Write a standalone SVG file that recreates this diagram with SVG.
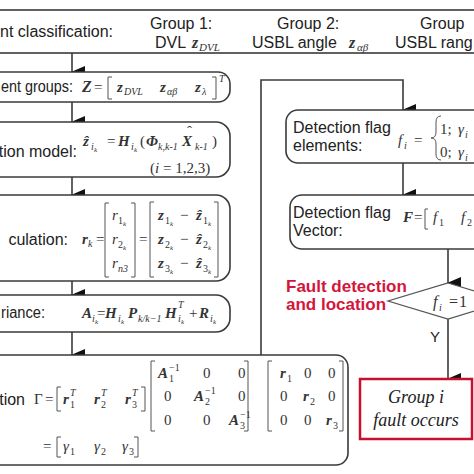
<svg xmlns="http://www.w3.org/2000/svg" width="474" height="474" viewBox="0 0 474 474">
<defs>
<style>
.ln{fill:none;stroke:#3a3a3a;stroke-width:1.6}
.bx{fill:#fff;stroke:#3a3a3a;stroke-width:1.6}
.br{fill:none;stroke:#555;stroke-width:1}
.t{font-family:"Liberation Sans",Arial,sans-serif;font-size:16px;fill:#222}
.m{font-family:"Liberation Serif","Times New Roman",serif;font-size:15px;fill:#333}
.bi{font-weight:bold;font-style:italic}
.i{font-style:italic}
.s{font-size:10px}
.ss{font-size:7px}
.red{font-family:"Liberation Sans",Arial,sans-serif;font-size:17px;font-weight:bold;fill:#d4163c}
</style>
<marker id="ah" markerUnits="userSpaceOnUse" markerWidth="12" markerHeight="14" refX="6" refY="13" orient="auto-start-reverse" viewBox="0 0 12 14">
<path d="M0,0 L12,0 L6,14 Z" fill="#111"/>
</marker>
</defs>
<rect width="474" height="474" fill="#fff"/>

<g id="connectors">
<line class="ln" x1="72" y1="53" x2="72" y2="72" marker-end="url(#ah)"/>
<line class="ln" x1="72" y1="102" x2="72" y2="122" marker-end="url(#ah)"/>
<line class="ln" x1="72" y1="177" x2="72" y2="195" marker-end="url(#ah)"/>
<line class="ln" x1="72" y1="281" x2="72" y2="295" marker-end="url(#ah)"/>
<line class="ln" x1="72" y1="332" x2="72" y2="355" marker-end="url(#ah)"/>
<polyline class="ln" points="261,355 261,80 403,80 403,110" marker-end="url(#ah)"/>
<line class="ln" x1="403" y1="163" x2="403" y2="195" marker-end="url(#ah)"/>
<line class="ln" x1="448" y1="249" x2="448" y2="283" marker-end="url(#ah)"/>
<line class="ln" x1="448" y1="319" x2="448" y2="379" marker-end="url(#ah)"/>
</g>

<g id="classification">
<rect class="bx" x="-5" y="10" width="490" height="43"/>
<text class="t" x="113" y="37" text-anchor="end">nt classification:</text>
<text class="t" x="150" y="29">Group 1:</text>
<text class="t" x="155" y="48">DVL</text>
<text class="m bi" x="192" y="48" style="font-size:16px">z</text><text class="m i" x="199" y="51" style="font-size:11px">DVL</text>
<text class="t" x="277" y="29">Group 2:</text>
<text class="t" x="252" y="48">USBL angle</text>
<text class="m bi" x="349" y="48" style="font-size:16px">z</text><text class="m i" x="357" y="51" style="font-size:11px">αβ</text>
<text class="t" x="420" y="29">Group</text>
<text class="t" x="395" y="48">USBL rang</text>
</g>

<g id="groups">
<path class="bx" d="M-5,72 H218 A12,12 0 0 1 230,84 V90 A12,12 0 0 1 218,102 H-5 Z"/>
<text class="t" x="1" y="92" textLength="72" lengthAdjust="spacingAndGlyphs">ent groups:</text>
<text class="m bi" x="82" y="92" style="font-size:16px">Z</text>
<text class="m" x="94" y="92">=</text>
<path class="br" d="M112,77 H108 V99 H112"/>
<text class="m bi" x="117" y="92">z</text><text class="m i s" x="124" y="95">DVL</text>
<text class="m bi" x="160" y="92">z</text><text class="m i s" x="167" y="95">αβ</text>
<text class="m bi" x="195" y="92">z</text><text class="m i s" x="202" y="95">λ</text>
<path class="br" d="M212,77 H216 V99 H212"/>
<text class="m i s" x="219" y="82">T</text>
</g>

<g id="model">
<path class="bx" d="M-5,122 H216 A14,14 0 0 1 230,136 V163 A14,14 0 0 1 216,177 H-5 Z"/>
<text class="t" x="77" y="157" text-anchor="end">tion model:</text>
<text class="m bi" x="83" y="146">ẑ</text><text class="m i s" x="91" y="150">i</text><text class="m i ss" x="94" y="152">k</text>
<text class="m" x="107" y="146">=</text>
<text class="m bi" x="118" y="146">H</text><text class="m i s" x="131" y="150">i</text><text class="m i ss" x="134" y="152">k</text>
<text class="m" x="140" y="146">(</text>
<text class="m bi" x="146" y="146">Φ</text><text class="m i s" x="158" y="150">k,k-1</text>
<text class="m bi" x="182" y="146">X</text><text class="m" x="187" y="136">ˆ</text><text class="m i s" x="195" y="150">k-1</text>
<text class="m" x="212" y="146">)</text>
<text class="m" x="150" y="173">(<tspan class="i">i</tspan> = 1,2,3)</text>
</g>

<g id="residual">
<path class="bx" d="M-5,195 H216 A14,14 0 0 1 230,209 V267 A14,14 0 0 1 216,281 H-5 Z"/>
<text class="t" x="68" y="245" text-anchor="end">culation:</text>
<text class="m bi" x="82" y="244">r</text><text class="m i s" x="88" y="247">k</text>
<text class="m" x="96" y="244">=</text>
<path class="br" d="M109,203 H105 V277 H109"/>
<path class="br" d="M131,203 H135 V277 H131"/>
<text class="m i" x="112" y="220">r</text><text class="m s" x="118" y="224">1</text><text class="m i ss" x="123" y="226">k</text>
<text class="m i" x="112" y="244">r</text><text class="m s" x="118" y="248">2</text><text class="m i ss" x="123" y="250">k</text>
<text class="m i" x="112" y="268">r</text><text class="m i s" x="118" y="272">n3</text>
<text class="m" x="139" y="244">=</text>
<path class="br" d="M154,202 H150 V277 H154"/>
<path class="br" d="M214,202 H218 V277 H214"/>
<text class="m bi" x="158" y="220">z</text><text class="m s" x="165" y="224">1</text><text class="m i ss" x="170" y="226">k</text>
<text class="m" x="180" y="220">−</text>
<text class="m bi" x="196" y="220">ẑ</text><text class="m s" x="203" y="224">1</text><text class="m i ss" x="208" y="226">k</text>
<text class="m bi" x="158" y="244">z</text><text class="m s" x="165" y="248">2</text><text class="m i ss" x="170" y="250">k</text>
<text class="m" x="180" y="244">−</text>
<text class="m bi" x="196" y="244">ẑ</text><text class="m s" x="203" y="248">2</text><text class="m i ss" x="208" y="250">k</text>
<text class="m bi" x="158" y="268">z</text><text class="m s" x="165" y="272">3</text><text class="m i ss" x="170" y="274">k</text>
<text class="m" x="180" y="268">−</text>
<text class="m bi" x="196" y="268">ẑ</text><text class="m s" x="203" y="272">3</text><text class="m i ss" x="208" y="274">k</text>
</g>

<g id="covariance">
<path class="bx" d="M-5,295 H216 A14,14 0 0 1 230,309 V318 A14,14 0 0 1 216,332 H-5 Z"/>
<text class="t" x="1" y="318" textLength="44" lengthAdjust="spacingAndGlyphs">riance:</text>
<text class="m bi" x="82" y="318">A</text><text class="m i s" x="92" y="322">i</text><text class="m i ss" x="95" y="324">k</text>
<text class="m" x="97" y="318">=</text>
<text class="m bi" x="105" y="318">H</text><text class="m i s" x="118" y="322">i</text><text class="m i ss" x="121" y="324">k</text>
<text class="m bi" x="128" y="318">P</text><text class="m i s" x="138" y="322">k/k−1</text>
<text class="m bi" x="165" y="318">H</text><text class="m i s" x="178" y="308">T</text><text class="m i s" x="178" y="322">i</text><text class="m i ss" x="181" y="324">k</text>
<text class="m" x="189" y="318">+</text>
<text class="m bi" x="199" y="318">R</text><text class="m i s" x="210" y="322">i</text><text class="m i ss" x="213" y="324">k</text>
</g>

<g id="statistic">
<path class="bx" d="M-5,355 H336 A12,12 0 0 1 348,367 V453 A12,12 0 0 1 336,465 H-5 Z"/>
<text class="t" x="25" y="405" text-anchor="end">tion</text>
<text class="m" x="34" y="404">Γ</text>
<text class="m" x="45" y="404">=</text>
<path class="br" d="M61,387 H57 V411 H61"/>
<text class="m bi" x="63" y="404">r</text><text class="m s" x="70" y="408">1</text><text class="m i s" x="70" y="396">T</text>
<text class="m bi" x="94" y="404">r</text><text class="m s" x="101" y="408">2</text><text class="m i s" x="101" y="396">T</text>
<text class="m bi" x="125" y="404">r</text><text class="m s" x="132" y="408">3</text><text class="m i s" x="132" y="396">T</text>
<path class="br" d="M141,387 H145 V411 H141"/>
<path class="br" d="M155,361 H151 V431 H155"/>
<path class="br" d="M244,361 H248 V431 H244"/>
<text class="m bi" x="158" y="378">A</text><text class="m s" x="169" y="382">1</text><text class="m s" x="169" y="371">−1</text>
<text class="m" x="203" y="378">0</text>
<text class="m" x="238" y="378">0</text>
<text class="m" x="164" y="401">0</text>
<text class="m bi" x="194" y="401">A</text><text class="m s" x="205" y="405">2</text><text class="m s" x="205" y="394">−1</text>
<text class="m" x="238" y="401">0</text>
<text class="m" x="164" y="425">0</text>
<text class="m" x="203" y="425">0</text>
<text class="m bi" x="229" y="425">A</text><text class="m s" x="240" y="429">3</text><text class="m s" x="240" y="418">−1</text>
<path class="br" d="M272,361 H268 V431 H272"/>
<path class="br" d="M339,361 H343 V431 H339"/>
<text class="m bi" x="280" y="378">r</text><text class="m s" x="287" y="382">1</text>
<text class="m" x="304" y="378">0</text>
<text class="m" x="328" y="378">0</text>
<text class="m" x="280" y="401">0</text>
<text class="m bi" x="303" y="401">r</text><text class="m s" x="310" y="405">2</text>
<text class="m" x="328" y="401">0</text>
<text class="m" x="280" y="425">0</text>
<text class="m" x="304" y="425">0</text>
<text class="m bi" x="326" y="425">r</text><text class="m s" x="333" y="429">3</text>
<text class="m" x="43" y="451">=</text>
<path class="br" d="M61,437 H57 V457 H61"/>
<text class="m i" x="63" y="451">γ</text><text class="m s" x="70" y="455">1</text>
<text class="m i" x="94" y="451">γ</text><text class="m s" x="101" y="455">2</text>
<text class="m i" x="122" y="451">γ</text><text class="m s" x="129" y="455">3</text>
<path class="br" d="M134,437 H138 V457 H134"/>
</g>

<g id="flag-elements">
<path class="bx" d="M485,110 H298 A12,12 0 0 0 286,122 V151 A12,12 0 0 0 298,163 H485 Z"/>
<text class="t" x="293" y="133">Detection flag</text>
<text class="t" x="293" y="151">elements:</text>
<text class="m i" x="398" y="145">f</text><text class="m i s" x="404" y="149">i</text>
<text class="m" x="414" y="145">=</text>
<path class="br" d="M441,116 Q436,116 436,122 V132 Q436,138 431,138 Q436,138 436,144 V154 Q436,160 441,160"/>
<text class="m" x="440" y="134">1;</text>
<text class="m i" x="458" y="134">γ</text><text class="m i s" x="465" y="138">i</text>
<text class="m" x="440" y="157">0;</text>
<text class="m i" x="458" y="157">γ</text><text class="m i s" x="465" y="161">i</text>
</g>

<g id="flag-vector">
<path class="bx" d="M485,195 H302 A12,12 0 0 0 290,207 V237 A12,12 0 0 0 302,249 H485 Z"/>
<text class="t" x="293" y="218">Detection flag</text>
<text class="t" x="293" y="236">Vector:</text>
<text class="m bi" x="403" y="222">F</text>
<text class="m" x="414" y="222">=</text>
<path class="br" d="M428,209 H425 V229 H428"/>
<text class="m i" x="433" y="222">f</text><text class="m s" x="439" y="226">1</text>
<text class="m i" x="461" y="222">f</text><text class="m s" x="467" y="226">2</text>
</g>

<g id="decision">
<polygon points="448,283 508,301 448,319 388,301" fill="#fff" stroke="#555" stroke-width="1.2"/>
<text class="m i" x="433" y="307" style="font-size:16px">f</text><text class="m i s" x="439" y="311">i</text>
<text class="m" x="449" y="307" style="font-size:16px">=</text>
<text class="m" x="459" y="307" style="font-size:16px">1</text>
<text class="red" x="286" y="292">Fault detection</text>
<text class="red" x="286" y="310">and location</text>
<text class="t" x="430" y="342" style="font-size:15px">Y</text>
</g>

<g id="fault">
<rect x="360" y="379" width="112" height="60" fill="#fff" stroke="#c8102e" stroke-width="2.5"/>
<text class="m i" x="416" y="403" text-anchor="middle" style="font-size:18px;fill:#222">Group i</text>
<text class="m i" x="416" y="426" text-anchor="middle" style="font-size:18px;fill:#222">fault occurs</text>
</g>
</svg>
